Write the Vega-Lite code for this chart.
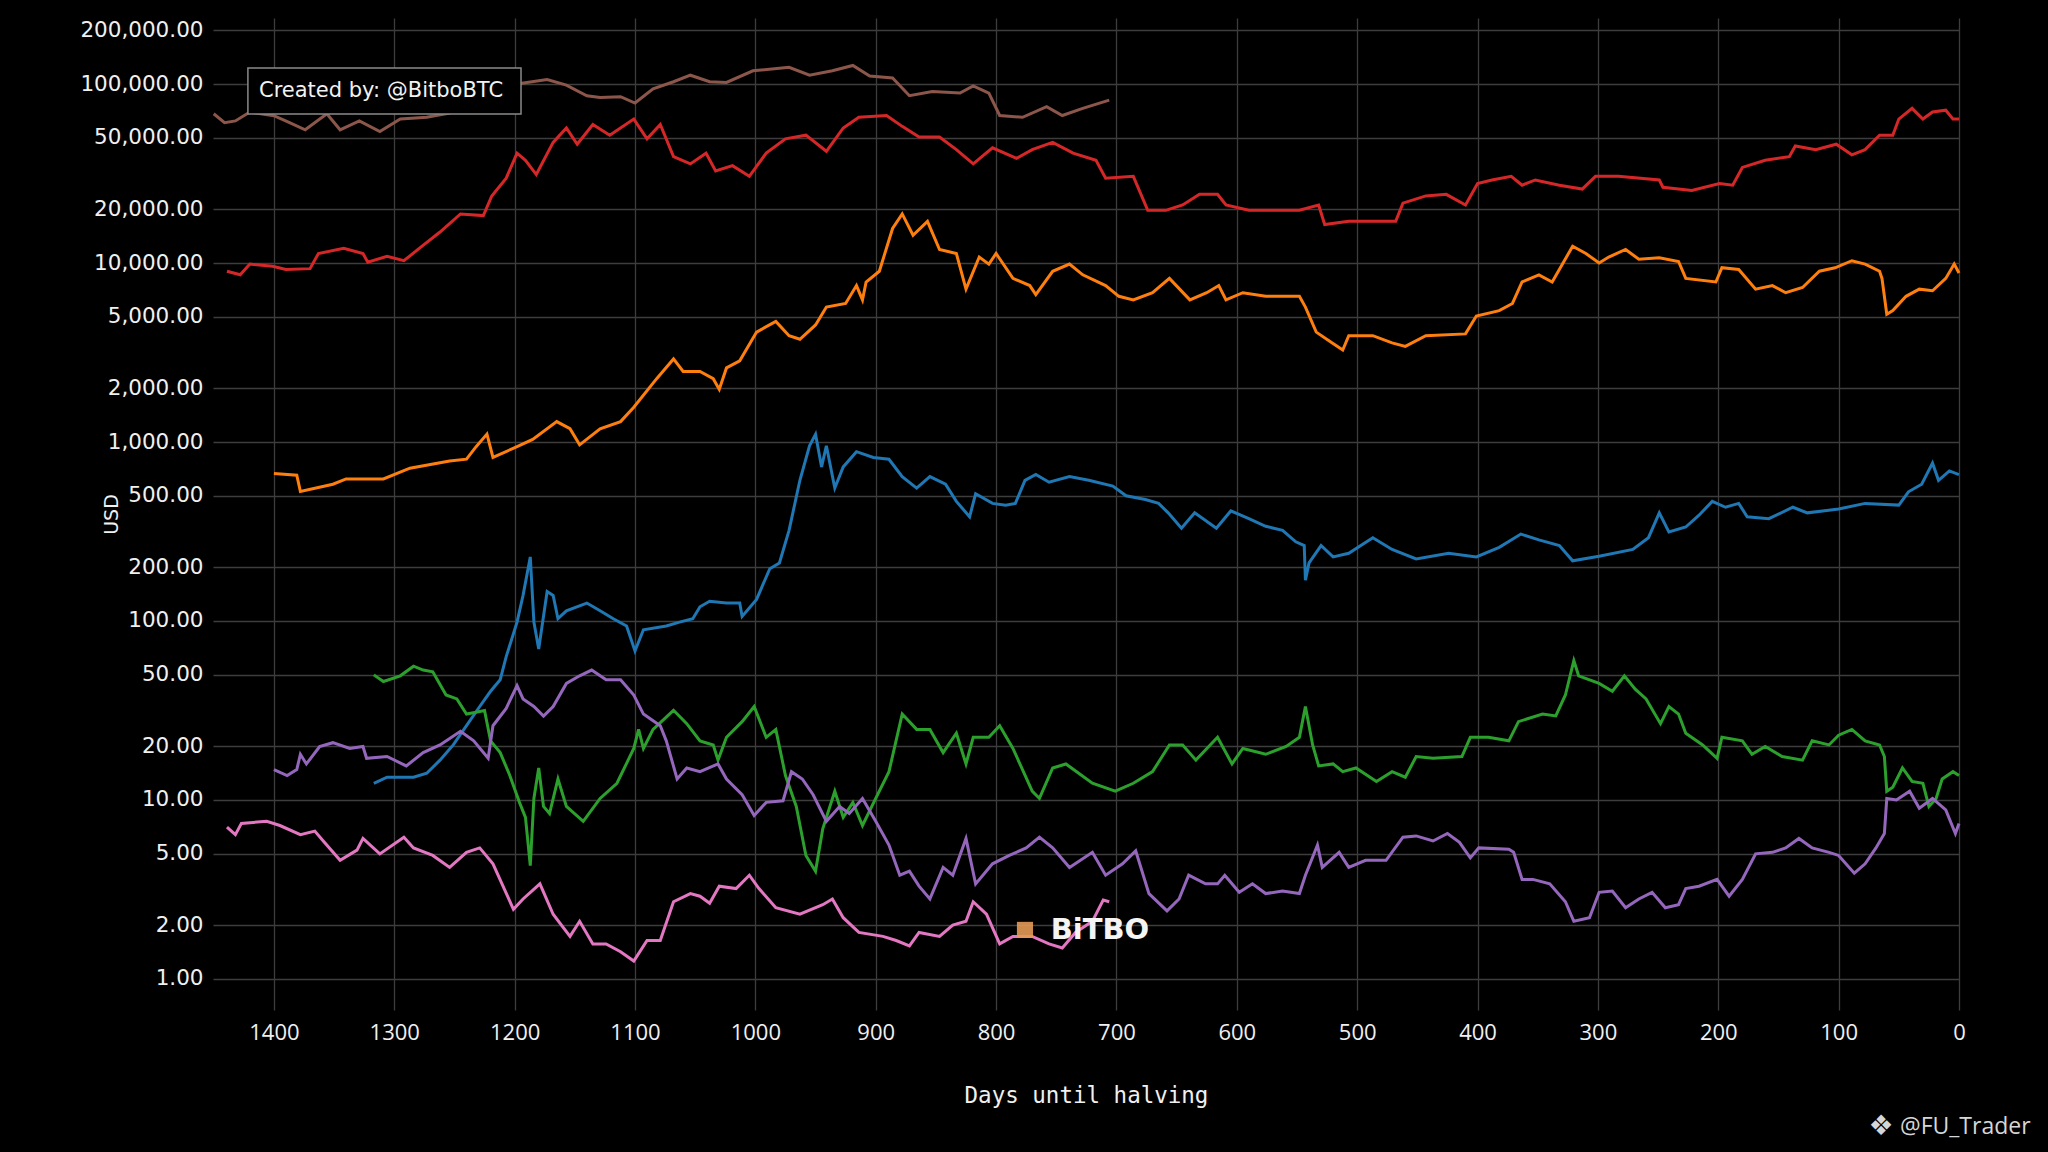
{
  "$schema": "https://vega.github.io/schema/vega-lite/v6.json",
  "width": 1746,
  "height": 992,
  "autosize": {"type": "none"},
  "padding": {"left": 213, "top": 18, "right": 89, "bottom": 142},
  "background": "#000000",
  "config": {
    "view": {"stroke": null},
    "axis": {
      "domain": false,
      "ticks": false,
      "gridColor": "#3d3d3d",
      "gridWidth": 1.3,
      "labelColor": "#f0f0f0",
      "titleColor": "#f0f0f0",
      "titleFontWeight": "normal"
    }
  },
  "datasets": {
    "prices": [
      {"s":"A","d":1317,"v":12.4},{"s":"A","d":1306,"v":13.4},{"s":"A","d":1284,"v":13.4},{"s":"A","d":1273,"v":14.1},{"s":"A","d":1262,"v":16.7},{"s":"A","d":1251,"v":20.3},{"s":"A","d":1240,"v":26},{"s":"A","d":1229,"v":33.3},{"s":"A","d":1220,"v":40.5},{"s":"A","d":1212,"v":47},{"s":"A","d":1207,"v":63.2},{"s":"A","d":1198,"v":98.6},{"s":"A","d":1193,"v":139},{"s":"A","d":1187,"v":228},{"s":"A","d":1184,"v":98.6},{"s":"A","d":1180,"v":69.8},{"s":"A","d":1173,"v":146},{"s":"A","d":1168,"v":139},{"s":"A","d":1164,"v":103},{"s":"A","d":1157,"v":114},{"s":"A","d":1140,"v":126},{"s":"A","d":1129,"v":114},{"s":"A","d":1118,"v":103},{"s":"A","d":1107,"v":93.8},{"s":"A","d":1100,"v":68},{"s":"A","d":1093,"v":89.3},{"s":"A","d":1074,"v":93.8},{"s":"A","d":1063,"v":98.6},{"s":"A","d":1052,"v":103},{"s":"A","d":1046,"v":120},{"s":"A","d":1038,"v":129},{"s":"A","d":1024,"v":126},{"s":"A","d":1013,"v":126},{"s":"A","d":1011,"v":106},{"s":"A","d":999,"v":132},{"s":"A","d":988,"v":196},{"s":"A","d":980,"v":211},{"s":"A","d":972,"v":321},{"s":"A","d":963,"v":611},{"s":"A","d":955,"v":953},{"s":"A","d":950,"v":1104},{"s":"A","d":945,"v":726},{"s":"A","d":941,"v":953},{"s":"A","d":934,"v":553},{"s":"A","d":927,"v":726},{"s":"A","d":916,"v":883},{"s":"A","d":902,"v":820},{"s":"A","d":889,"v":801},{"s":"A","d":878,"v":641},{"s":"A","d":866,"v":553},{"s":"A","d":855,"v":641},{"s":"A","d":842,"v":581},{"s":"A","d":833,"v":466},{"s":"A","d":822,"v":382},{"s":"A","d":817,"v":514},{"s":"A","d":803,"v":454},{"s":"A","d":792,"v":444},{"s":"A","d":784,"v":454},{"s":"A","d":776,"v":611},{"s":"A","d":767,"v":658},{"s":"A","d":756,"v":596},{"s":"A","d":739,"v":641},{"s":"A","d":723,"v":611},{"s":"A","d":703,"v":567},{"s":"A","d":692,"v":501},{"s":"A","d":676,"v":477},{"s":"A","d":665,"v":454},{"s":"A","d":657,"v":402},{"s":"A","d":646,"v":330},{"s":"A","d":635,"v":402},{"s":"A","d":617,"v":330},{"s":"A","d":605,"v":412},{"s":"A","d":590,"v":373},{"s":"A","d":576,"v":338},{"s":"A","d":562,"v":321},{"s":"A","d":551,"v":277},{"s":"A","d":544,"v":264},{"s":"A","d":543,"v":169},{"s":"A","d":540,"v":211},{"s":"A","d":530,"v":264},{"s":"A","d":520,"v":228},{"s":"A","d":507,"v":239},{"s":"A","d":487,"v":292},{"s":"A","d":471,"v":251},{"s":"A","d":451,"v":222},{"s":"A","d":424,"v":239},{"s":"A","d":401,"v":228},{"s":"A","d":382,"v":258},{"s":"A","d":364,"v":306},{"s":"A","d":349,"v":284},{"s":"A","d":332,"v":264},{"s":"A","d":321,"v":217},{"s":"A","d":299,"v":230},{"s":"A","d":271,"v":251},{"s":"A","d":258,"v":292},{"s":"A","d":249,"v":402},{"s":"A","d":241,"v":314},{"s":"A","d":227,"v":335},{"s":"A","d":216,"v":390},{"s":"A","d":205,"v":466},{"s":"A","d":194,"v":432},{"s":"A","d":183,"v":454},{"s":"A","d":176,"v":382},{"s":"A","d":158,"v":373},{"s":"A","d":138,"v":432},{"s":"A","d":126,"v":402},{"s":"A","d":100,"v":422},{"s":"A","d":78,"v":454},{"s":"A","d":50,"v":444},{"s":"A","d":42,"v":527},{"s":"A","d":31,"v":581},{"s":"A","d":22,"v":762},{"s":"A","d":17,"v":611},{"s":"A","d":8,"v":690},{"s":"A","d":0,"v":658},

      {"s":"B","d":1400,"v":667},{"s":"B","d":1381,"v":652},{"s":"B","d":1378,"v":530},{"s":"B","d":1351,"v":581},{"s":"B","d":1340,"v":622},{"s":"B","d":1309,"v":622},{"s":"B","d":1287,"v":714},{"s":"B","d":1254,"v":783},{"s":"B","d":1240,"v":802},{"s":"B","d":1232,"v":942},{"s":"B","d":1223,"v":1107},{"s":"B","d":1218,"v":820},{"s":"B","d":1198,"v":942},{"s":"B","d":1185,"v":1033},{"s":"B","d":1165,"v":1300},{"s":"B","d":1154,"v":1186},{"s":"B","d":1146,"v":964},{"s":"B","d":1129,"v":1186},{"s":"B","d":1112,"v":1300},{"s":"B","d":1101,"v":1563},{"s":"B","d":1082,"v":2259},{"s":"B","d":1068,"v":2911},{"s":"B","d":1060,"v":2477},{"s":"B","d":1046,"v":2477},{"s":"B","d":1035,"v":2259},{"s":"B","d":1030,"v":1968},{"s":"B","d":1024,"v":2594},{"s":"B","d":1013,"v":2844},{"s":"B","d":999,"v":4111},{"s":"B","d":983,"v":4721},{"s":"B","d":972,"v":3926},{"s":"B","d":963,"v":3750},{"s":"B","d":950,"v":4508},{"s":"B","d":941,"v":5675},{"s":"B","d":925,"v":5943},{"s":"B","d":916,"v":7482},{"s":"B","d":911,"v":6223},{"s":"B","d":908,"v":7834},{"s":"B","d":897,"v":8995},{"s":"B","d":886,"v":15600},{"s":"B","d":878,"v":18800},{"s":"B","d":869,"v":14300},{"s":"B","d":857,"v":17100},{"s":"B","d":847,"v":11900},{"s":"B","d":833,"v":11300},{"s":"B","d":825,"v":7145},{"s":"B","d":814,"v":10800},{"s":"B","d":806,"v":9863},{"s":"B","d":800,"v":11300},{"s":"B","d":786,"v":8204},{"s":"B","d":772,"v":7482},{"s":"B","d":767,"v":6668},{"s":"B","d":753,"v":8995},{"s":"B","d":739,"v":9863},{"s":"B","d":728,"v":8590},{"s":"B","d":709,"v":7482},{"s":"B","d":698,"v":6516},{"s":"B","d":686,"v":6223},{"s":"B","d":670,"v":6823},{"s":"B","d":656,"v":8204},{"s":"B","d":639,"v":6223},{"s":"B","d":625,"v":6823},{"s":"B","d":615,"v":7482},{"s":"B","d":609,"v":6223},{"s":"B","d":595,"v":6823},{"s":"B","d":576,"v":6516},{"s":"B","d":548,"v":6516},{"s":"B","d":543,"v":5675},{"s":"B","d":534,"v":4111},{"s":"B","d":521,"v":3581},{"s":"B","d":512,"v":3266},{"s":"B","d":507,"v":3926},{"s":"B","d":487,"v":3926},{"s":"B","d":471,"v":3581},{"s":"B","d":460,"v":3420},{"s":"B","d":443,"v":3926},{"s":"B","d":410,"v":4018},{"s":"B","d":401,"v":5058},{"s":"B","d":382,"v":5420},{"s":"B","d":371,"v":5943},{"s":"B","d":363,"v":7834},{"s":"B","d":349,"v":8590},{"s":"B","d":338,"v":7834},{"s":"B","d":321,"v":12400},{"s":"B","d":310,"v":11300},{"s":"B","d":299,"v":10000},{"s":"B","d":291,"v":10800},{"s":"B","d":277,"v":11900},{"s":"B","d":266,"v":10500},{"s":"B","d":249,"v":10700},{"s":"B","d":233,"v":10200},{"s":"B","d":227,"v":8204},{"s":"B","d":202,"v":7834},{"s":"B","d":197,"v":9419},{"s":"B","d":183,"v":9200},{"s":"B","d":169,"v":7145},{"s":"B","d":155,"v":7482},{"s":"B","d":144,"v":6823},{"s":"B","d":130,"v":7300},{"s":"B","d":116,"v":8995},{"s":"B","d":103,"v":9400},{"s":"B","d":89,"v":10300},{"s":"B","d":78,"v":9863},{"s":"B","d":66,"v":8995},{"s":"B","d":64,"v":8204},{"s":"B","d":60,"v":5176},{"s":"B","d":55,"v":5420},{"s":"B","d":44,"v":6516},{"s":"B","d":33,"v":7145},{"s":"B","d":22,"v":7000},{"s":"B","d":11,"v":8204},{"s":"B","d":4,"v":9863},{"s":"B","d":0,"v":8790},

      {"s":"C","d":1317,"v":50},{"s":"C","d":1309,"v":45.9},{"s":"C","d":1295,"v":49.4},{"s":"C","d":1284,"v":55.9},{"s":"C","d":1276,"v":53.2},{"s":"C","d":1268,"v":52},{"s":"C","d":1257,"v":38.6},{"s":"C","d":1248,"v":36.7},{"s":"C","d":1240,"v":30.2},{"s":"C","d":1232,"v":30.9},{"s":"C","d":1225,"v":31.6},{"s":"C","d":1220,"v":21.4},{"s":"C","d":1212,"v":18.4},{"s":"C","d":1204,"v":13.7},{"s":"C","d":1196,"v":9.7},{"s":"C","d":1191,"v":8},{"s":"C","d":1187,"v":4.3},{"s":"C","d":1184,"v":10.2},{"s":"C","d":1180,"v":15.1},{"s":"C","d":1176,"v":9.2},{"s":"C","d":1171,"v":8.4},{"s":"C","d":1164,"v":13.1},{"s":"C","d":1157,"v":9.2},{"s":"C","d":1143,"v":7.6},{"s":"C","d":1129,"v":10.2},{"s":"C","d":1115,"v":12.4},{"s":"C","d":1101,"v":19.4},{"s":"C","d":1097,"v":24.8},{"s":"C","d":1093,"v":19.4},{"s":"C","d":1085,"v":24.8},{"s":"C","d":1068,"v":31.7},{"s":"C","d":1057,"v":26.7},{"s":"C","d":1046,"v":21.4},{"s":"C","d":1035,"v":20.3},{"s":"C","d":1031,"v":16.7},{"s":"C","d":1024,"v":22.4},{"s":"C","d":1011,"v":27.4},{"s":"C","d":1001,"v":33.3},{"s":"C","d":991,"v":22.4},{"s":"C","d":983,"v":24.8},{"s":"C","d":975,"v":13.7},{"s":"C","d":966,"v":9.2},{"s":"C","d":958,"v":4.9},{"s":"C","d":950,"v":4.0},{"s":"C","d":944,"v":6.9},{"s":"C","d":934,"v":11.2},{"s":"C","d":927,"v":8.0},{"s":"C","d":919,"v":9.7},{"s":"C","d":911,"v":7.2},{"s":"C","d":900,"v":10.2},{"s":"C","d":889,"v":14.4},{"s":"C","d":878,"v":30.2},{"s":"C","d":866,"v":24.8},{"s":"C","d":855,"v":24.8},{"s":"C","d":844,"v":18.4},{"s":"C","d":833,"v":23.6},{"s":"C","d":825,"v":15.9},{"s":"C","d":819,"v":22.4},{"s":"C","d":806,"v":22.4},{"s":"C","d":797,"v":26},{"s":"C","d":786,"v":19.4},{"s":"C","d":770,"v":11.2},{"s":"C","d":764,"v":10.2},{"s":"C","d":753,"v":15.1},{"s":"C","d":742,"v":15.9},{"s":"C","d":720,"v":12.4},{"s":"C","d":701,"v":11.2},{"s":"C","d":686,"v":12.4},{"s":"C","d":670,"v":14.4},{"s":"C","d":656,"v":20.3},{"s":"C","d":645,"v":20.3},{"s":"C","d":634,"v":16.7},{"s":"C","d":616,"v":22.4},{"s":"C","d":604,"v":15.9},{"s":"C","d":595,"v":19.4},{"s":"C","d":576,"v":18},{"s":"C","d":559,"v":19.9},{"s":"C","d":548,"v":22.4},{"s":"C","d":543,"v":33.3},{"s":"C","d":537,"v":20.3},{"s":"C","d":532,"v":15.5},{"s":"C","d":520,"v":15.9},{"s":"C","d":512,"v":14.4},{"s":"C","d":501,"v":15.1},{"s":"C","d":484,"v":12.7},{"s":"C","d":471,"v":14.4},{"s":"C","d":460,"v":13.4},{"s":"C","d":451,"v":17.5},{"s":"C","d":437,"v":17.1},{"s":"C","d":413,"v":17.5},{"s":"C","d":406,"v":22.4},{"s":"C","d":391,"v":22.4},{"s":"C","d":374,"v":21.4},{"s":"C","d":366,"v":27.4},{"s":"C","d":346,"v":30.2},{"s":"C","d":335,"v":29.5},{"s":"C","d":327,"v":38.6},{"s":"C","d":320,"v":60.1},{"s":"C","d":316,"v":49.4},{"s":"C","d":299,"v":44.8},{"s":"C","d":288,"v":40.5},{"s":"C","d":278,"v":49.4},{"s":"C","d":269,"v":41.6},{"s":"C","d":260,"v":36.7},{"s":"C","d":248,"v":26.7},{"s":"C","d":241,"v":33.3},{"s":"C","d":233,"v":30.2},{"s":"C","d":227,"v":23.6},{"s":"C","d":213,"v":20.3},{"s":"C","d":201,"v":17.1},{"s":"C","d":197,"v":22.4},{"s":"C","d":180,"v":21.4},{"s":"C","d":172,"v":18},{"s":"C","d":161,"v":19.9},{"s":"C","d":147,"v":17.5},{"s":"C","d":130,"v":16.7},{"s":"C","d":122,"v":21.4},{"s":"C","d":108,"v":20.3},{"s":"C","d":100,"v":23},{"s":"C","d":89,"v":24.8},{"s":"C","d":78,"v":21.4},{"s":"C","d":66,"v":20.3},{"s":"C","d":62,"v":17.5},{"s":"C","d":60,"v":11.2},{"s":"C","d":55,"v":11.8},{"s":"C","d":47,"v":15.1},{"s":"C","d":39,"v":12.7},{"s":"C","d":30,"v":12.4},{"s":"C","d":25,"v":9.2},{"s":"C","d":19,"v":10.2},{"s":"C","d":14,"v":13.1},{"s":"C","d":5,"v":14.4},{"s":"C","d":0,"v":13.7},

      {"s":"D","d":1439,"v":9000},{"s":"D","d":1428,"v":8600},{"s":"D","d":1420,"v":9860},{"s":"D","d":1401,"v":9600},{"s":"D","d":1390,"v":9200},{"s":"D","d":1370,"v":9300},{"s":"D","d":1363,"v":11300},{"s":"D","d":1342,"v":12100},{"s":"D","d":1326,"v":11300},{"s":"D","d":1322,"v":10100},{"s":"D","d":1306,"v":10900},{"s":"D","d":1292,"v":10300},{"s":"D","d":1279,"v":12100},{"s":"D","d":1262,"v":14900},{"s":"D","d":1245,"v":18800},{"s":"D","d":1226,"v":18400},{"s":"D","d":1219,"v":23700},{"s":"D","d":1207,"v":29800},{"s":"D","d":1198,"v":41100},{"s":"D","d":1191,"v":37500},{"s":"D","d":1182,"v":31200},{"s":"D","d":1168,"v":47200},{"s":"D","d":1157,"v":56800},{"s":"D","d":1148,"v":46100},{"s":"D","d":1135,"v":59400},{"s":"D","d":1121,"v":51800},{"s":"D","d":1101,"v":63700},{"s":"D","d":1090,"v":49400},{"s":"D","d":1079,"v":59400},{"s":"D","d":1068,"v":39300},{"s":"D","d":1054,"v":35800},{"s":"D","d":1041,"v":41100},{"s":"D","d":1033,"v":32700},{"s":"D","d":1019,"v":35000},{"s":"D","d":1005,"v":30500},{"s":"D","d":991,"v":41100},{"s":"D","d":975,"v":49400},{"s":"D","d":958,"v":51800},{"s":"D","d":941,"v":42100},{"s":"D","d":927,"v":56800},{"s":"D","d":914,"v":65200},{"s":"D","d":891,"v":66700},{"s":"D","d":878,"v":58000},{"s":"D","d":864,"v":50600},{"s":"D","d":847,"v":50600},{"s":"D","d":833,"v":43000},{"s":"D","d":819,"v":35800},{"s":"D","d":803,"v":44000},{"s":"D","d":783,"v":38400},{"s":"D","d":770,"v":43000},{"s":"D","d":753,"v":47200},{"s":"D","d":736,"v":41100},{"s":"D","d":717,"v":37500},{"s":"D","d":709,"v":29800},{"s":"D","d":686,"v":30500},{"s":"D","d":674,"v":19700},{"s":"D","d":659,"v":19700},{"s":"D","d":645,"v":21100},{"s":"D","d":631,"v":24200},{"s":"D","d":616,"v":24200},{"s":"D","d":609,"v":21100},{"s":"D","d":590,"v":19700},{"s":"D","d":576,"v":19700},{"s":"D","d":548,"v":19700},{"s":"D","d":532,"v":21100},{"s":"D","d":527,"v":16400},{"s":"D","d":507,"v":17100},{"s":"D","d":487,"v":17100},{"s":"D","d":468,"v":17100},{"s":"D","d":462,"v":21600},{"s":"D","d":443,"v":23700},{"s":"D","d":426,"v":24200},{"s":"D","d":410,"v":21100},{"s":"D","d":400,"v":27800},{"s":"D","d":388,"v":29100},{"s":"D","d":372,"v":30500},{"s":"D","d":363,"v":27200},{"s":"D","d":352,"v":29100},{"s":"D","d":332,"v":27200},{"s":"D","d":313,"v":25900},{"s":"D","d":302,"v":30500},{"s":"D","d":283,"v":30500},{"s":"D","d":249,"v":29100},{"s":"D","d":246,"v":26500},{"s":"D","d":222,"v":25400},{"s":"D","d":199,"v":27800},{"s":"D","d":188,"v":27200},{"s":"D","d":180,"v":34200},{"s":"D","d":161,"v":37500},{"s":"D","d":141,"v":39300},{"s":"D","d":136,"v":45100},{"s":"D","d":119,"v":43000},{"s":"D","d":102,"v":46100},{"s":"D","d":89,"v":40200},{"s":"D","d":78,"v":43000},{"s":"D","d":66,"v":51800},{"s":"D","d":55,"v":51800},{"s":"D","d":50,"v":63700},{"s":"D","d":39,"v":73100},{"s":"D","d":30,"v":63700},{"s":"D","d":22,"v":69800},{"s":"D","d":11,"v":71400},{"s":"D","d":5,"v":63700},{"s":"D","d":0,"v":63700},

      {"s":"E","d":1400,"v":14.8},{"s":"E","d":1389,"v":13.7},{"s":"E","d":1381,"v":14.8},{"s":"E","d":1378,"v":18},{"s":"E","d":1373,"v":15.9},{"s":"E","d":1362,"v":19.9},{"s":"E","d":1351,"v":20.9},{"s":"E","d":1337,"v":19.4},{"s":"E","d":1326,"v":19.9},{"s":"E","d":1323,"v":17.1},{"s":"E","d":1306,"v":17.5},{"s":"E","d":1290,"v":15.5},{"s":"E","d":1276,"v":18.4},{"s":"E","d":1262,"v":20.3},{"s":"E","d":1245,"v":24.2},{"s":"E","d":1234,"v":21.4},{"s":"E","d":1222,"v":17.1},{"s":"E","d":1218,"v":26},{"s":"E","d":1207,"v":32.5},{"s":"E","d":1198,"v":43.6},{"s":"E","d":1193,"v":36.7},{"s":"E","d":1184,"v":33.3},{"s":"E","d":1176,"v":29.4},{"s":"E","d":1168,"v":33.3},{"s":"E","d":1157,"v":44.8},{"s":"E","d":1146,"v":49.4},{"s":"E","d":1136,"v":53.2},{"s":"E","d":1124,"v":47},{"s":"E","d":1112,"v":47},{"s":"E","d":1101,"v":38.6},{"s":"E","d":1093,"v":30.2},{"s":"E","d":1079,"v":26},{"s":"E","d":1074,"v":21.4},{"s":"E","d":1065,"v":13.1},{"s":"E","d":1057,"v":15.1},{"s":"E","d":1046,"v":14.4},{"s":"E","d":1031,"v":15.9},{"s":"E","d":1024,"v":13.1},{"s":"E","d":1011,"v":10.7},{"s":"E","d":1001,"v":8.2},{"s":"E","d":991,"v":9.7},{"s":"E","d":977,"v":9.9},{"s":"E","d":970,"v":14.4},{"s":"E","d":961,"v":13.1},{"s":"E","d":952,"v":10.7},{"s":"E","d":941,"v":7.6},{"s":"E","d":930,"v":9.2},{"s":"E","d":922,"v":8.4},{"s":"E","d":911,"v":10.2},{"s":"E","d":900,"v":7.6},{"s":"E","d":889,"v":5.6},{"s":"E","d":880,"v":3.8},{"s":"E","d":872,"v":4.0},{"s":"E","d":864,"v":3.3},{"s":"E","d":855,"v":2.8},{"s":"E","d":844,"v":4.2},{"s":"E","d":836,"v":3.8},{"s":"E","d":825,"v":6.1},{"s":"E","d":817,"v":3.4},{"s":"E","d":803,"v":4.4},{"s":"E","d":789,"v":4.9},{"s":"E","d":775,"v":5.4},{"s":"E","d":764,"v":6.2},{"s":"E","d":753,"v":5.4},{"s":"E","d":739,"v":4.2},{"s":"E","d":720,"v":5.1},{"s":"E","d":709,"v":3.8},{"s":"E","d":695,"v":4.4},{"s":"E","d":684,"v":5.2},{"s":"E","d":673,"v":3.0},{"s":"E","d":658,"v":2.4},{"s":"E","d":648,"v":2.8},{"s":"E","d":640,"v":3.8},{"s":"E","d":626,"v":3.4},{"s":"E","d":616,"v":3.4},{"s":"E","d":610,"v":3.8},{"s":"E","d":598,"v":3.05},{"s":"E","d":587,"v":3.4},{"s":"E","d":576,"v":3.0},{"s":"E","d":562,"v":3.1},{"s":"E","d":548,"v":3.0},{"s":"E","d":543,"v":3.8},{"s":"E","d":533,"v":5.6},{"s":"E","d":529,"v":4.2},{"s":"E","d":515,"v":5.1},{"s":"E","d":507,"v":4.2},{"s":"E","d":493,"v":4.6},{"s":"E","d":476,"v":4.6},{"s":"E","d":462,"v":6.2},{"s":"E","d":451,"v":6.3},{"s":"E","d":437,"v":5.9},{"s":"E","d":425,"v":6.5},{"s":"E","d":415,"v":5.8},{"s":"E","d":406,"v":4.75},{"s":"E","d":399,"v":5.4},{"s":"E","d":374,"v":5.3},{"s":"E","d":370,"v":5.1},{"s":"E","d":363,"v":3.6},{"s":"E","d":354,"v":3.6},{"s":"E","d":340,"v":3.4},{"s":"E","d":327,"v":2.7},{"s":"E","d":320,"v":2.1},{"s":"E","d":307,"v":2.2},{"s":"E","d":299,"v":3.05},{"s":"E","d":288,"v":3.1},{"s":"E","d":277,"v":2.5},{"s":"E","d":266,"v":2.8},{"s":"E","d":255,"v":3.05},{"s":"E","d":244,"v":2.5},{"s":"E","d":233,"v":2.6},{"s":"E","d":227,"v":3.2},{"s":"E","d":216,"v":3.3},{"s":"E","d":201,"v":3.6},{"s":"E","d":191,"v":2.9},{"s":"E","d":180,"v":3.6},{"s":"E","d":169,"v":5.0},{"s":"E","d":155,"v":5.1},{"s":"E","d":144,"v":5.4},{"s":"E","d":133,"v":6.1},{"s":"E","d":122,"v":5.4},{"s":"E","d":108,"v":5.1},{"s":"E","d":100,"v":4.9},{"s":"E","d":87,"v":3.9},{"s":"E","d":78,"v":4.4},{"s":"E","d":69,"v":5.4},{"s":"E","d":62,"v":6.5},{"s":"E","d":60,"v":10.2},{"s":"E","d":52,"v":10},{"s":"E","d":41,"v":11.2},{"s":"E","d":33,"v":9.0},{"s":"E","d":22,"v":10.2},{"s":"E","d":11,"v":8.8},{"s":"E","d":3,"v":6.5},{"s":"E","d":0,"v":7.4},

      {"s":"F","d":1450,"v":68200},{"s":"F","d":1441,"v":60800},{"s":"F","d":1432,"v":62200},{"s":"F","d":1420,"v":69800},{"s":"F","d":1400,"v":66500},{"s":"F","d":1387,"v":60800},{"s":"F","d":1374,"v":55500},{"s":"F","d":1356,"v":68200},{"s":"F","d":1345,"v":55500},{"s":"F","d":1329,"v":62200},{"s":"F","d":1312,"v":54200},{"s":"F","d":1295,"v":63700},{"s":"F","d":1273,"v":65200},{"s":"F","d":1254,"v":68800},{"s":"F","d":1194,"v":101000},{"s":"F","d":1173,"v":106000},{"s":"F","d":1157,"v":98600},{"s":"F","d":1140,"v":86000},{"s":"F","d":1129,"v":84000},{"s":"F","d":1112,"v":85000},{"s":"F","d":1100,"v":78300},{"s":"F","d":1085,"v":94000},{"s":"F","d":1068,"v":103000},{"s":"F","d":1054,"v":112000},{"s":"F","d":1038,"v":103000},{"s":"F","d":1024,"v":102000},{"s":"F","d":1002,"v":118600},{"s":"F","d":972,"v":124000},{"s":"F","d":955,"v":112000},{"s":"F","d":936,"v":118600},{"s":"F","d":919,"v":127000},{"s":"F","d":905,"v":110700},{"s":"F","d":886,"v":108000},{"s":"F","d":872,"v":86000},{"s":"F","d":853,"v":90800},{"s":"F","d":830,"v":89000},{"s":"F","d":819,"v":97700},{"s":"F","d":806,"v":89000},{"s":"F","d":797,"v":66700},{"s":"F","d":778,"v":65200},{"s":"F","d":758,"v":74800},{"s":"F","d":745,"v":66700},{"s":"F","d":728,"v":73100},{"s":"F","d":706,"v":81300},

      {"s":"G","d":1439,"v":7.05},{"s":"G","d":1432,"v":6.4},{"s":"G","d":1427,"v":7.4},{"s":"G","d":1406,"v":7.6},{"s":"G","d":1395,"v":7.2},{"s":"G","d":1378,"v":6.4},{"s":"G","d":1366,"v":6.7},{"s":"G","d":1359,"v":5.9},{"s":"G","d":1345,"v":4.6},{"s":"G","d":1331,"v":5.25},{"s":"G","d":1326,"v":6.1},{"s":"G","d":1312,"v":5.0},{"s":"G","d":1292,"v":6.2},{"s":"G","d":1284,"v":5.4},{"s":"G","d":1268,"v":4.9},{"s":"G","d":1254,"v":4.2},{"s":"G","d":1240,"v":5.1},{"s":"G","d":1229,"v":5.4},{"s":"G","d":1218,"v":4.4},{"s":"G","d":1201,"v":2.45},{"s":"G","d":1193,"v":2.8},{"s":"G","d":1179,"v":3.4},{"s":"G","d":1168,"v":2.3},{"s":"G","d":1154,"v":1.73},{"s":"G","d":1146,"v":2.1},{"s":"G","d":1135,"v":1.57},{"s":"G","d":1124,"v":1.57},{"s":"G","d":1112,"v":1.42},{"s":"G","d":1101,"v":1.26},{"s":"G","d":1090,"v":1.64},{"s":"G","d":1079,"v":1.64},{"s":"G","d":1068,"v":2.7},{"s":"G","d":1054,"v":3.0},{"s":"G","d":1046,"v":2.9},{"s":"G","d":1038,"v":2.65},{"s":"G","d":1030,"v":3.3},{"s":"G","d":1016,"v":3.2},{"s":"G","d":1005,"v":3.8},{"s":"G","d":997,"v":3.2},{"s":"G","d":983,"v":2.5},{"s":"G","d":963,"v":2.3},{"s":"G","d":944,"v":2.6},{"s":"G","d":936,"v":2.8},{"s":"G","d":927,"v":2.2},{"s":"G","d":914,"v":1.82},{"s":"G","d":894,"v":1.73},{"s":"G","d":883,"v":1.64},{"s":"G","d":872,"v":1.53},{"s":"G","d":864,"v":1.82},{"s":"G","d":847,"v":1.73},{"s":"G","d":836,"v":2.0},{"s":"G","d":825,"v":2.1},{"s":"G","d":819,"v":2.7},{"s":"G","d":808,"v":2.3},{"s":"G","d":797,"v":1.57},{"s":"G","d":786,"v":1.73},{"s":"G","d":770,"v":1.73},{"s":"G","d":756,"v":1.57},{"s":"G","d":745,"v":1.49},{"s":"G","d":734,"v":1.82},{"s":"G","d":720,"v":2.1},{"s":"G","d":711,"v":2.76},{"s":"G","d":706,"v":2.7}
    ]
  },
  "layer": [
    {
      "data": {"name": "prices"},
      "mark": {"type": "line", "strokeWidth": 3, "interpolate": "linear"},
      "encoding": {
        "x": {
          "field": "d",
          "type": "quantitative",
          "title": "Days until halving",
          "scale": {"domain": [1450.6, 0], "nice": false, "zero": false},
          "axis": {
            "values": [0, 100, 200, 300, 400, 500, 600, 700, 800, 900, 1000, 1100, 1200, 1300, 1400],
            "format": "d",
            "labelFlush": false,
            "labelFont": "Open Sans",
            "labelFontSize": 22,
            "labelPadding": 12,
            "titleFont": "DejaVu Sans Mono",
            "titleFontSize": 22.5,
            "titleY": 85,
            "titleBaseline": "middle"
          }
        },
        "y": {
          "field": "v",
          "type": "quantitative",
          "title": "USD",
          "scale": {"type": "log", "domain": [0.671, 233800], "nice": false},
          "axis": {
            "values": [1, 2, 5, 10, 20, 50, 100, 200, 500, 1000, 2000, 5000, 10000, 20000, 50000, 100000, 200000],
            "format": ",.2f",
            "labelFont": "DejaVu Sans",
            "labelFontSize": 21.5,
            "labelPadding": 10,
            "titleFont": "DejaVu Sans",
            "titleFontSize": 19,
            "titleX": -102,
            "titleY": 496,
            "titleAlign": "center",
            "titleBaseline": "middle"
          }
        },
        "color": {
          "field": "s",
          "type": "nominal",
          "legend": null,
          "scale": {
            "domain": ["A", "B", "C", "D", "E", "F", "G"],
            "range": ["#1f77b4", "#ff7f0e", "#2ca02c", "#d62728", "#9467bd", "#8c564b", "#e377c2"]
          }
        }
      }
    },
    {
      "data": {"values": [{}]},
      "mark": {"type": "rect", "fill": "#000000", "stroke": "#8a8a8a", "strokeWidth": 1.5},
      "encoding": {
        "x": {"datum": 1421.6, "type": "quantitative"},
        "x2": {"datum": 1194.7},
        "y": {"datum": 122700, "type": "quantitative"},
        "y2": {"datum": 67900}
      }
    },
    {
      "data": {"values": [{}]},
      "mark": {"type": "text", "text": "Created by: @BitboBTC", "align": "left", "baseline": "middle", "font": "DejaVu Sans", "fontSize": 21, "color": "#f2f2f2"},
      "encoding": {
        "x": {"datum": 1412.4, "type": "quantitative"},
        "y": {"datum": 91400, "type": "quantitative"}
      }
    },
    {
      "data": {"values": [{}]},
      "mark": {"type": "point", "shape": "square", "filled": true, "size": 260, "color": "#e39a55", "opacity": 0.9},
      "encoding": {
        "x": {"datum": 776, "type": "quantitative"},
        "y": {"datum": 1.88, "type": "quantitative"}
      }
    },
    {
      "data": {"values": [{}]},
      "mark": {"type": "text", "text": "BiTBO", "align": "center", "baseline": "middle", "font": "DejaVu Sans", "fontWeight": "bold", "fontSize": 29, "color": "#f4f4f4"},
      "encoding": {
        "x": {"datum": 713.7, "type": "quantitative"},
        "y": {"datum": 1.88, "type": "quantitative"}
      }
    },
    {
      "data": {"values": [{}]},
      "mark": {"type": "text", "text": "❖", "align": "center", "baseline": "middle", "font": "DejaVu Sans", "fontSize": 28, "color": "#d6d6d6"},
      "encoding": {
        "x": {"datum": 64.8, "type": "quantitative"},
        "y": {"datum": 0.149, "type": "quantitative"}
      }
    },
    {
      "data": {"values": [{}]},
      "mark": {"type": "text", "text": "@FU_Trader", "align": "left", "baseline": "middle", "font": "Open Sans", "fontSize": 23, "color": "#d6d6d6"},
      "encoding": {
        "x": {"datum": 49, "type": "quantitative"},
        "y": {"datum": 0.149, "type": "quantitative"}
      }
    }
  ]
}
